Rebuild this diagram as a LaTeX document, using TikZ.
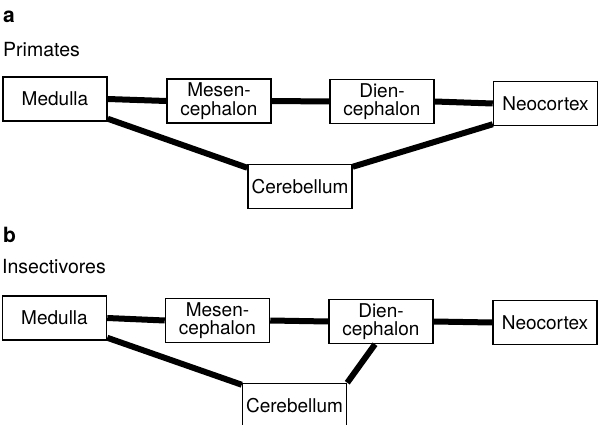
\documentclass[tikz,border=0pt]{standalone}
\usepackage{fontspec}
\setmainfont{TeX Gyre Heros}
\usepackage{tikz}
\usetikzlibrary{positioning}

\tikzset{
  region/.style={draw=black, line width=1.5pt, fill=white, minimum width=104pt,
                 minimum height=44pt, inner sep=0pt, align=center,
                 font=\fontsize{19}{18.5}\selectfont},
  tract/.style={line width=6pt, black},
  panel/.style={anchor=base west, inner sep=0pt, font=\fontsize{21}{21}\selectfont\bfseries},
  group/.style={anchor=base west, inner sep=0pt, font=\fontsize{19.5}{20}\selectfont}
}

\begin{document}
\begin{tikzpicture}[x=1pt, y=-1pt]
  \useasboundingbox (0,0) rectangle (600,425);
  \clip (0,0) rectangle (600,425);

  % ── Panel a: primates ──
  \node[panel] (lbla) at (3,23) {a};
  \node[group] (prim) at (3,57) {Primates};

  \node[region] (meda) at (55,99) {Medulla};
  \node[region] (mesa) at (219,101) {Mesen-\\cephalon};
  \node[region] (diea) at (382,101.5) {Dien-\\cephalon};
  \node[region] (neoa) at (545.5,103.5) {Neocortex};
  \node[region] (cera) at (300,186.5) {Cerebellum};

  \draw[tract] (meda.east) -- (mesa.west);
  \draw[tract] (mesa.east) -- (diea.west);
  \draw[tract] (diea.east) -- (neoa.west);
  \draw[tract] ([yshift=3pt]meda.south east) -- ([yshift=-4pt]cera.north west);
  \draw[tract] ([yshift=2pt]neoa.south west) -- ([yshift=-3pt]cera.north east);

  % ── Panel b: insectivores ──
  \node[panel] (lblb) at (3,242) {b};
  \node[group] (insc) at (2,273) {Insectivores};

  \node[region] (medb) at (54.5,318) {Medulla};
  \node[region] (mesb) at (217.5,320.5) {Mesen-\\cephalon};
  \node[region] (dieb) at (381,321.5) {Dien-\\cephalon};
  \node[region] (neob) at (545,322.5) {Neocortex};
  \node[region] (cerb) at (294.5,405.5) {Cerebellum};

  \draw[tract] (medb.east) -- (mesb.west);
  \draw[tract] (mesb.east) -- (dieb.west);
  \draw[tract] (dieb.east) -- (neob.west);
  \draw[tract] ([yshift=3pt]medb.south east) -- ([yshift=-2pt]cerb.north west);
  \draw[tract] ([xshift=-6pt]dieb.south) -- (cerb.north east);
\end{tikzpicture}
\end{document}
